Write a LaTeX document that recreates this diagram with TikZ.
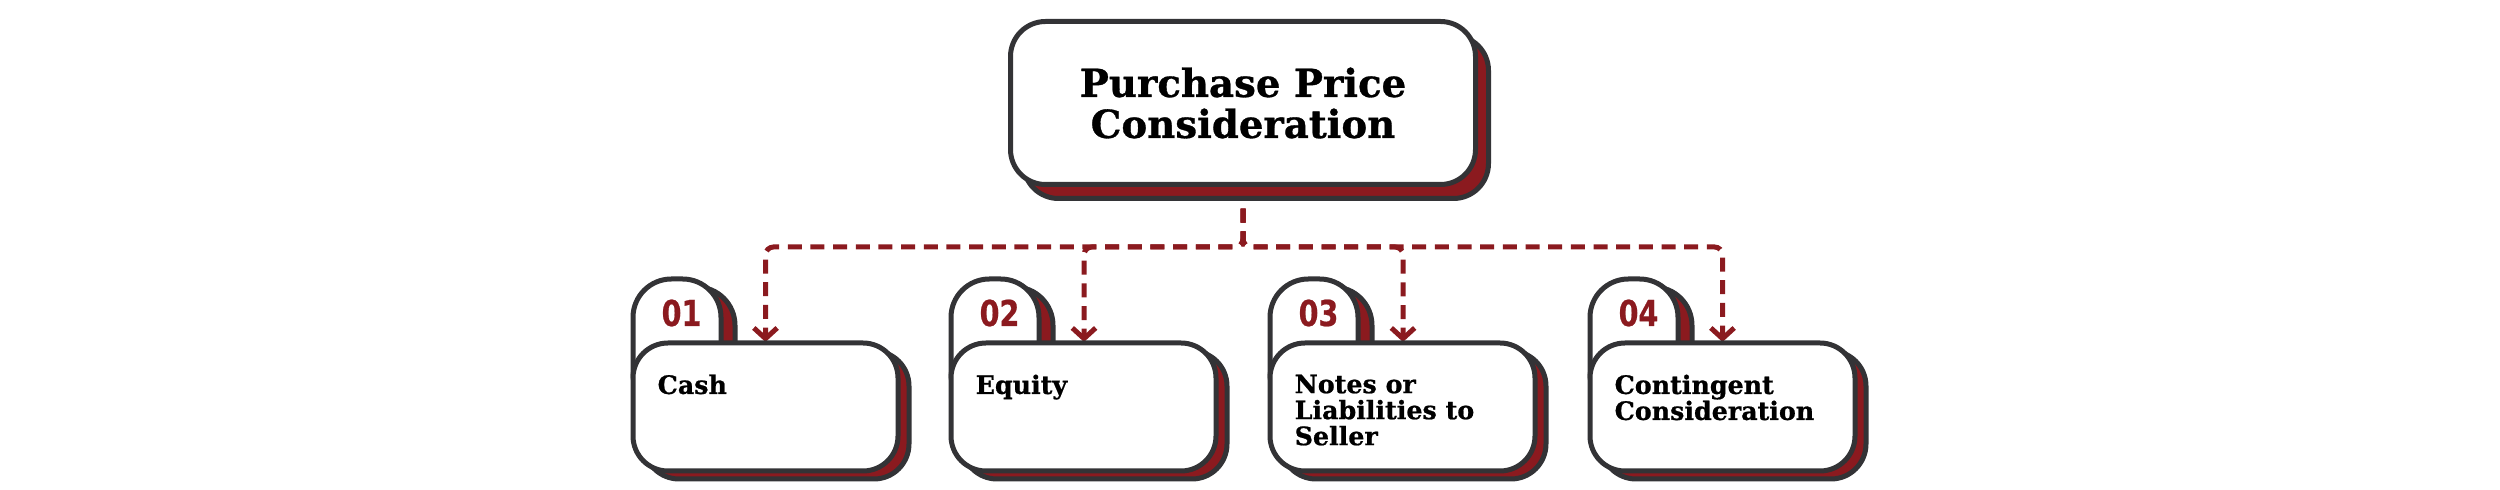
\documentclass[tikz,border=0pt]{standalone}
\usepackage{fontspec}
\setmainfont{DejaVu Serif}
\newfontfamily\heavy{DejaVu Serif}[BoldFeatures={FakeBold=0.8}]
\newfontfamily\numfont{DejaVu Sans}[FakeStretch=0.8,BoldFeatures={FakeBold=0.6}]
\usetikzlibrary{arrows.meta,calc}
\definecolor{dk}{HTML}{333336}
\definecolor{rr}{HTML}{8B1A1F}
\begin{document}
\begin{tikzpicture}[x=0.3pt,y=-0.3pt,
  outl/.style={draw=dk, line width=1.5pt, outer sep=0pt, inner sep=0pt},
  topbox/.style={outl, fill=white, rounded corners=10.5pt, minimum width=139.5pt, minimum height=48.9pt},
  mainbox/.style={outl, fill=white, rounded corners=10.5pt, minimum width=79.5pt, minimum height=38.4pt, anchor=north west},
  tabbox/.style={outl, fill=white, rounded corners=11.5pt, minimum width=26.4pt, minimum height=40pt, anchor=north west},
  shade/.style={fill=rr},
  ttl/.style={font=\heavy\fontsize{11.6pt}{12.3pt}\selectfont\bfseries, align=center, inner sep=0pt},
  lbl/.style={font=\heavy\fontsize{7.6pt}{7.8pt}\selectfont\bfseries, align=left, inner sep=0pt, anchor=north west},
  num/.style={font=\numfont\bfseries\fontsize{10.7pt}{11pt}\selectfont, text=rr, inner sep=0pt, anchor=west},
  conn/.style={draw=rr, line width=1.5pt, dash pattern=on 4.2pt off 2.6pt, rounded corners=2.4pt, -{Straight Barb[length=3.2pt,width=7pt]}}
]
\useasboundingbox (0,0) rectangle (2500,490);
% connectors (behind boxes)
\coordinate (hub) at (1243,247);
\coordinate (c1n) at (765.5,342);
\coordinate (c2n) at (1084,342);
\coordinate (c3n) at (1403,342);
\coordinate (c4n) at (1722.5,342);
\coordinate (topbot) at (1243,186);
\foreach \i in {1,...,4}{
  \draw[conn] (topbot) -- (hub) -| (c\i n);
}
% top box
\node[topbox, shade] (tops) at (1256,117) {};
\node[topbox] (top) at (1243,103) {};
\node[ttl] (title) at (top) {Purchase Price\\Consideration};
% child boxes
\foreach \i/\x/\t in {1/633/{Cash},2/951/{Equity},3/1270/{Notes or\\Liabilities to\\Seller},4/1590/{Contingent\\Consideration}}{
  \node[tabbox, shade] (tab\i s) at (\x+14,287) {};
  \node[tabbox] (tab\i) at (\x,279) {};
  \node[num] (n\i) at (\x+28,313) {0\i};
  \node[mainbox, shade] (c\i s) at (\x+11,351) {};
  \node[mainbox] (c\i) at (\x,343) {};
  \node[lbl] (l\i) at (\x+24,374) {\t};
}
\end{tikzpicture}
\end{document}
